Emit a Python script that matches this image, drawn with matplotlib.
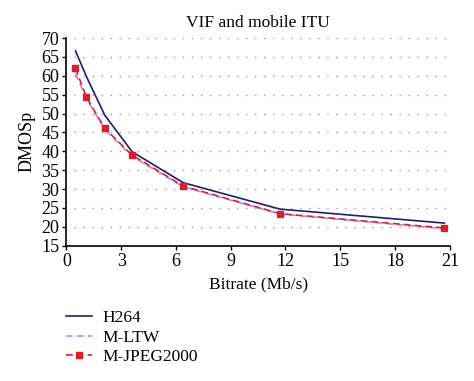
import matplotlib
matplotlib.use("Agg")
import matplotlib.pyplot as plt

bitrate = [0.5, 1.1, 2.1, 3.6, 6.4, 11.7, 20.7]
h264 = [66.6, 59.8, 49.6, 39.9, 31.7, 24.7, 21.0]
mltw = [60.6, 54.0, 45.8, 38.7, 30.6, 23.4, 19.5]
mjpeg = [62.0, 54.3, 46.1, 39.0, 30.8, 23.5, 19.7]
xticks = [0, 3, 6, 9, 12, 15, 18, 21]
yticks = [15, 20, 25, 30, 35, 40, 45, 50, 55, 60, 65, 70]

plt.rcParams['font.family'] = ['Liberation Serif', 'DejaVu Serif']

fig = plt.figure(figsize=(4.74, 3.81), dpi=100)
ax = fig.add_axes([0.140, 0.355, 0.809, 0.545])

for y in yticks[1:]:
    ax.plot([0.4, 20.9], [y, y], color='#999999', linestyle=(0, (1, 5.5)), linewidth=1.0, zorder=0)

ax.plot(bitrate, h264, color='#1f1f6e', linewidth=1.2, label='H264', zorder=3)
ax.plot(bitrate, mltw, color='#c77fd6', linewidth=1.2, linestyle=(0, (4, 2.5)), label='M-LTW', zorder=4)
ax.plot(bitrate, mjpeg, color='#d42030', linewidth=1.2, linestyle=(0, (4, 2.5)), marker='s',
        markersize=3.8, label='M-JPEG2000', zorder=5)

ax.set_xlim(0, 21)
ax.set_ylim(15, 70)
ax.set_xticks(xticks)
ax.set_yticks(yticks)
ax.spines['top'].set_visible(False)
ax.spines['right'].set_visible(False)
ax.spines['left'].set_linewidth(1.2)
ax.spines['bottom'].set_linewidth(1.2)
ax.tick_params(direction='out', length=3, width=1.0, labelsize=13, pad=2)
ax.set_title('VIF and mobile ITU', fontsize=12.5, pad=8)
ax.set_xlabel('Bitrate (Mb/s)', fontsize=12.5, labelpad=5)
ax.set_ylabel('DMOSp', fontsize=13, labelpad=4)

fig.legend(loc='upper left', bbox_to_anchor=(0.125, 0.205), frameon=False, fontsize=12.5,
           handlelength=1.5, handletextpad=0.6, labelspacing=0.2, borderaxespad=0)

fig.savefig('out.png', dpi=100)
